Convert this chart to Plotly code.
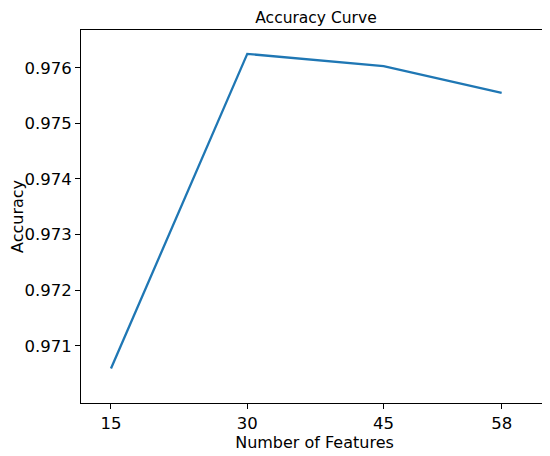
import plotly.graph_objects as go

features = [15, 30, 45, 58]
accuracy = [0.97059, 0.97625, 0.97603, 0.97555]
y_ticks = [0.971, 0.972, 0.973, 0.974, 0.975, 0.976]

fig = go.Figure(go.Scatter(x=features, y=accuracy, mode="lines",
                           line=dict(color="#1f77b4", width=2.3)))

axis = dict(showgrid=False, zeroline=False, showline=True, linecolor="black",
            linewidth=1, mirror=True, ticks="outside", ticklen=5,
            tickcolor="black", tickfont=dict(size=16.5, color="black"),
            automargin=False)

fig.update_layout(
    width=550, height=456,
    margin=dict(l=73, r=10, t=22, b=61),
    plot_bgcolor="white", paper_bgcolor="white",
    font=dict(family="DejaVu Sans", color="black"),
    title=dict(text="Accuracy Curve", x=0.56, xanchor="center", y=0.978,
               yanchor="middle", font=dict(size=15.5)),
    showlegend=False,
)
fig.update_xaxes(axis, range=[11.7, 63.1], tickvals=features,
                 title=dict(text="Number of Features", font=dict(size=16), standoff=4))
fig.update_yaxes(axis, range=[0.96997, 0.97668], tickvals=y_ticks,
                 tickformat=".3f",
                 title=dict(text="Accuracy", font=dict(size=16), standoff=6))

fig.write_html("out.html")
